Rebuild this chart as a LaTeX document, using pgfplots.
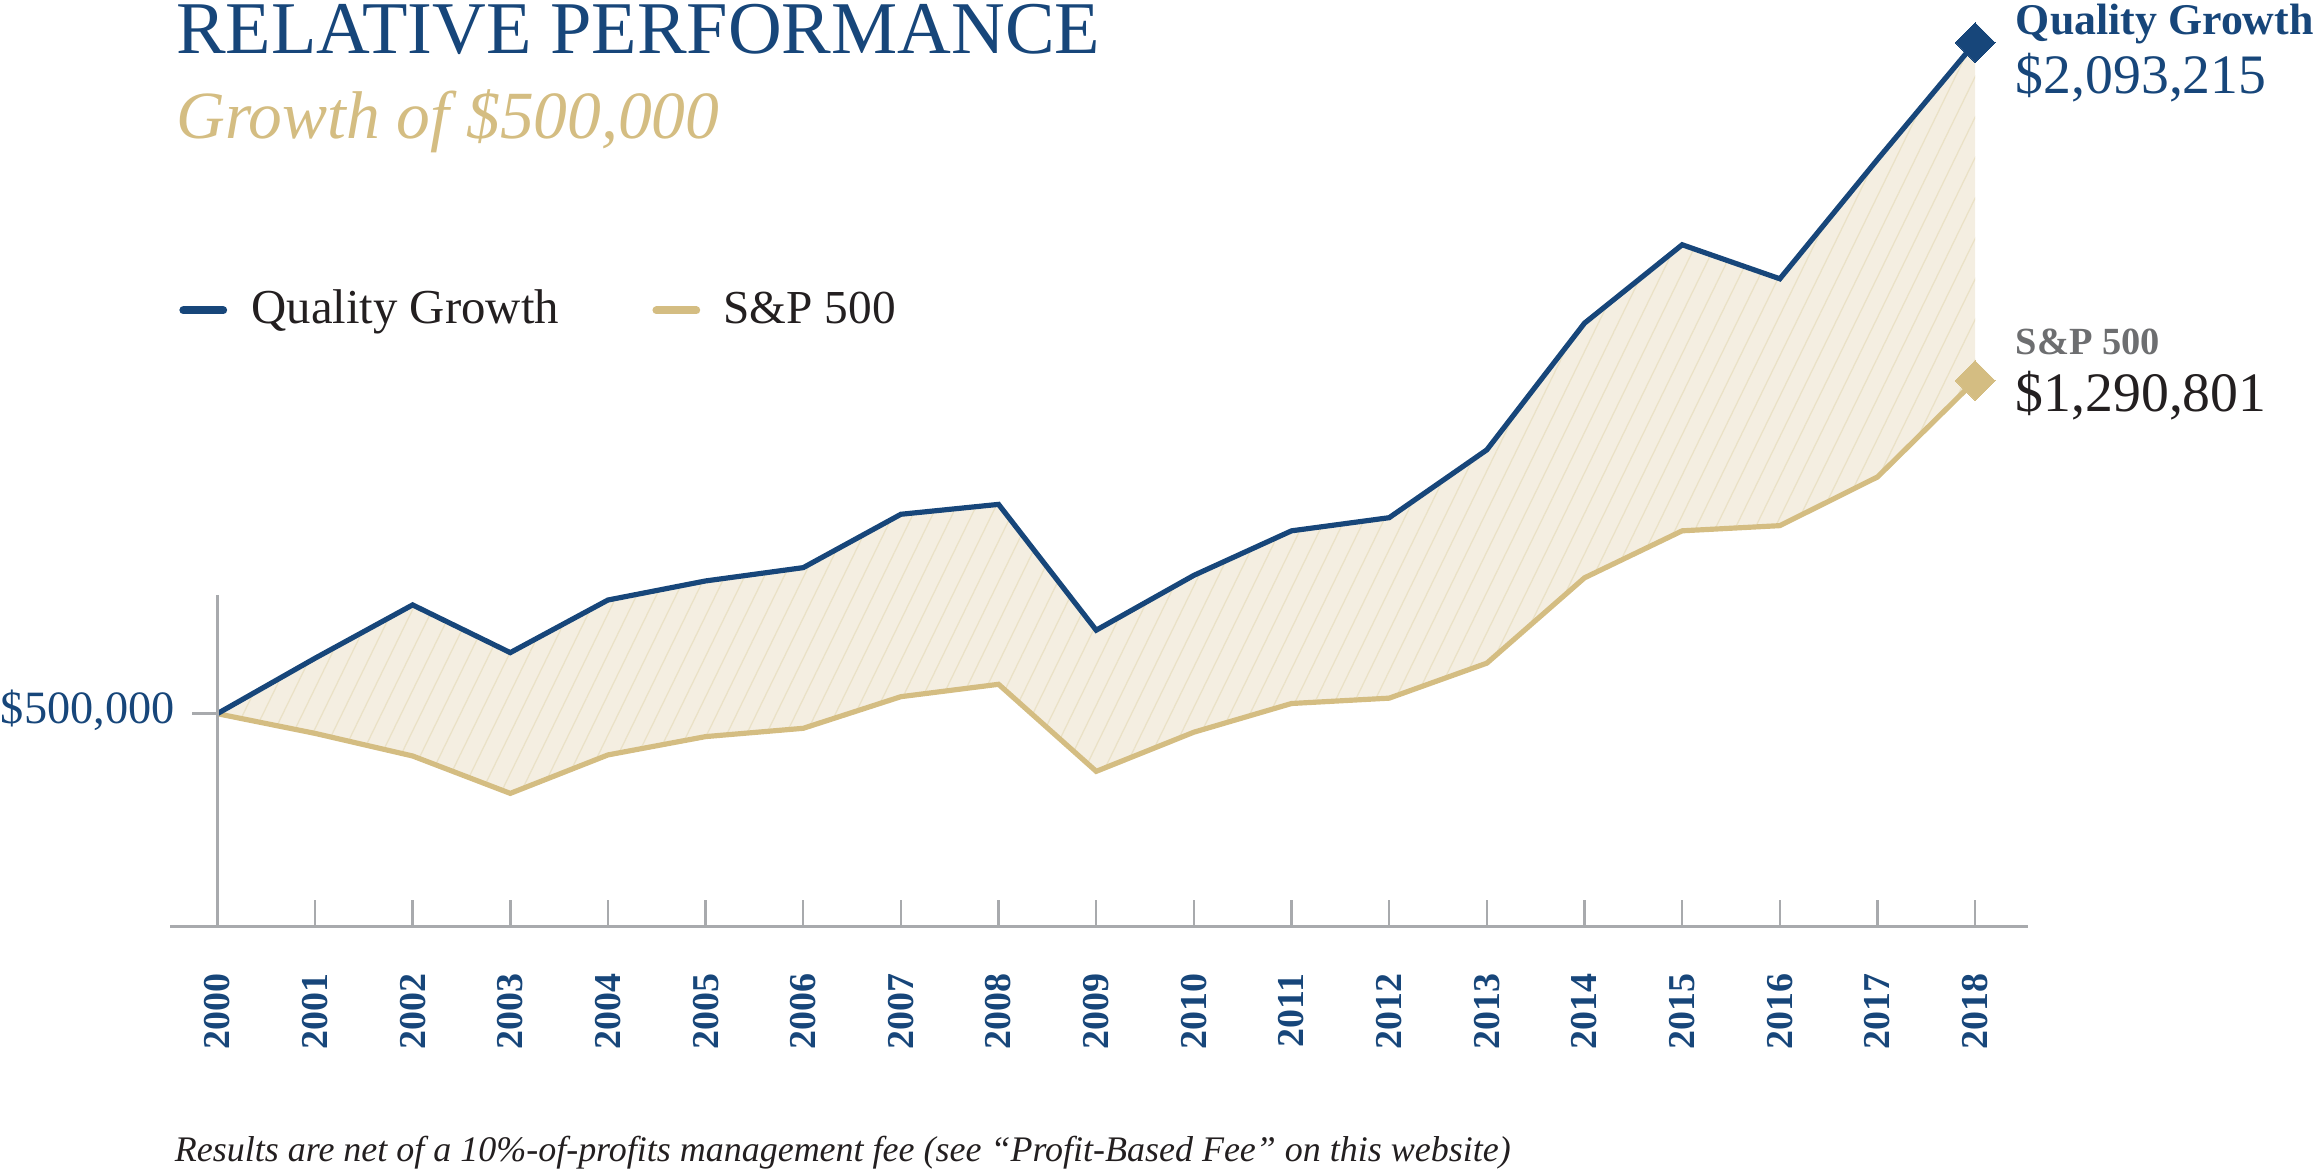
\documentclass[border=0pt]{standalone}
\usepackage{pgfplots}
\pgfplotsset{compat=1.18}
\usepackage{pgfplotstable}
\usepgfplotslibrary{fillbetween}
\usetikzlibrary{patterns.meta}
\usepackage{fontspec}
\setmainfont{Liberation Serif}

\definecolor{qblue}{HTML}{17467A}
\definecolor{spgold}{HTML}{D4BD82}
\definecolor{band}{HTML}{F4EEE1}
\definecolor{hatch}{HTML}{EAE1C6}
\definecolor{axgray}{HTML}{A8AAAD}
\definecolor{ink}{HTML}{231F20}
\definecolor{labgray}{HTML}{6D6E70}

% growth of $500,000
\pgfplotstableread{
year qg sp
2000 500000 500000
2001 631600 453300
2002 758300 399600
2003 645000 310800
2004 769900 402100
2005 815200 445600
2006 846800 465300
2007 973500 540400
2008 997000 569800
2009 698300 363100
2010 828500 456100
2011 934200 524200
2012 965400 536900
2013 1126500 620000
2014 1427300 822600
2015 1613400 934200
2016 1532600 946500
2017 1815900 1062000
2018 2093215 1290801
}\perf

\pgfplotstableread{
year qg sp
2018 2093215 1290801
}\last

\begin{document}
\begin{tikzpicture}
\begin{axis}[
  scale only axis, width=377.1pt, height=188.55pt,
  xmin=1999.516, xmax=2018.544, ymin=-6000, ymax=2200000,
  axis x line=bottom, axis y line=none,
  axis line style={-, draw=axgray, line width=0.55pt},
  xtick={2000,2001,...,2018}, ytick=\empty,
  xticklabels={2000,2001,2002,2003,2004,2005,2006,2007,2008,2009,2010,2011,2012,2013,2014,2015,2016,2017,2018},
  tick align=inside, major tick length=5.4pt,
  xtick style={draw=axgray, line width=0.5pt},
  xticklabel style={rotate=90, anchor=east, inner sep=0pt, text=qblue,
    font=\fontsize{7.7pt}{8pt}\selectfont\bfseries},
  xticklabel shift=9.3pt,
  clip=false,
]
\addplot[draw=none, name path=qg, forget plot] table[x=year, y=qg] {\perf};
\addplot[draw=none, name path=sp, forget plot] table[x=year, y=sp] {\perf};
\addplot[fill=band, draw=none] fill between[of=qg and sp];
\addplot[pattern={Lines[angle=64, distance=3.6pt, line width=0.25pt]}, pattern color=hatch, draw=none] fill between[of=qg and sp];
\addplot[spgold, line width=1.05pt, mark=none, line join=miter] table[x=year, y=sp] {\perf};
\addplot[qblue, line width=1.05pt, mark=none, line join=miter] table[x=year, y=qg] {\perf};
\addplot[spgold, only marks, mark=square*, mark size=2.86pt, mark options={rotate=45, fill=spgold, draw=spgold, line width=0pt}] table[x=year, y=sp] {\last};
\addplot[qblue, only marks, mark=square*, mark size=2.86pt, mark options={rotate=45, fill=qblue, draw=qblue, line width=0pt}] table[x=year, y=qg] {\last};
\coordinate (P0) at (axis cs:2000,500000);
\end{axis}
\begin{scope}[shift={(P0)}, shift={(-44.1pt,144.84pt)}, x=0.3pt, y=-0.3pt]
  % y axis stub and its single tick
  \draw[axgray, line width=0.55pt] (147,402.5) -- (147,627);
  \draw[axgray, line width=0.5pt] (130,482.8) -- (147,482.8);
  \node[anchor=base west, inner sep=0pt, text=qblue, font=\fontsize{9.4pt}{10pt}\selectfont] at (0,489.4) {\$500,000};
  % titles
  \node[anchor=base west, inner sep=0pt, text=qblue, font=\fontsize{15.1pt}{16pt}\selectfont] at (118.6,36) {RELATIVE PERFORMANCE};
  \node[anchor=base west, inner sep=0pt, text=spgold, font=\fontsize{13.7pt}{15pt}\selectfont\itshape] at (118.6,94) {Growth of \$500,000};
  % legend
  \draw[qblue, line width=1.6pt, line cap=round] (124,210) -- (151,210);
  \node[anchor=base west, inner sep=0pt, text=ink, font=\fontsize{9.9pt}{11pt}\selectfont] at (169.4,219) {Quality Growth};
  \draw[spgold, line width=1.6pt, line cap=round] (444,210) -- (471,210);
  \node[anchor=base west, inner sep=0pt, text=ink, font=\fontsize{9.6pt}{11pt}\selectfont] at (488.8,219) {S\&P 500};
  % end labels
  \node[anchor=base west, inner sep=0pt, text=qblue, font=\fontsize{8.9pt}{10pt}\selectfont\bfseries] at (1363,23.5) {Quality Growth};
  \node[anchor=base west, inner sep=0pt, text=qblue, font=\fontsize{11.3pt}{13pt}\selectfont] at (1363,63) {\$2,093,215};
  \node[anchor=base west, inner sep=0pt, text=labgray, font=\fontsize{7.8pt}{9pt}\selectfont\bfseries] at (1363,240) {S\&P 500};
  \node[anchor=base west, inner sep=0pt, text=ink, font=\fontsize{11.3pt}{13pt}\selectfont] at (1363,278.5) {\$1,290,801};
  % note
  \node[anchor=base west, inner sep=0pt, text=ink, font=\fontsize{7.3pt}{9pt}\selectfont\itshape] at (117.7,786) {Results are net of a 10\%-of-profits management fee (see “Profit-Based Fee” on this website)};
  \pgfresetboundingbox
  \path (0,0) rectangle (1568,793);
\end{scope}
\end{tikzpicture}
\end{document}
